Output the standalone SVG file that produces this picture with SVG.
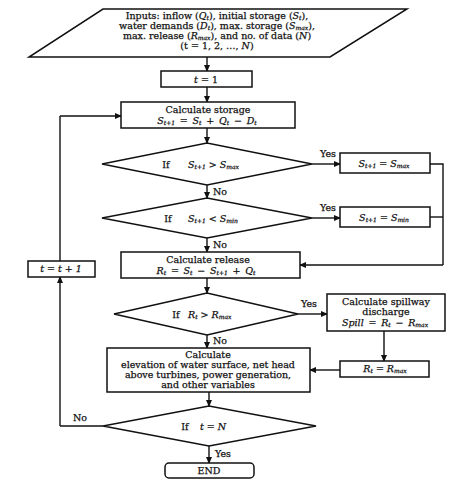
<svg xmlns="http://www.w3.org/2000/svg" width="474" height="488" viewBox="0 0 474 488">
<defs>
<marker id="ah" markerWidth="7" markerHeight="6" refX="6" refY="3" orient="auto" markerUnits="userSpaceOnUse">
<path d="M0,0 L7,3 L0,6 Z" fill="#111"/>
</marker>
<style>
.s{fill:#fff;stroke:#111;stroke-width:1.5}
.c{fill:none;stroke:#111;stroke-width:1.4}
.a{fill:none;stroke:#111;stroke-width:1.4;marker-end:url(#ah)}
.t{font-family:"DejaVu Serif",serif;font-size:9.5px;fill:#111;stroke:#111;stroke-width:0.25;text-anchor:middle}
.l{font-family:"DejaVu Serif",serif;font-size:9.5px;fill:#111;stroke:#111;stroke-width:0.25}
.m{font-style:italic}
.b{font-size:6px}
</style>
</defs>
<rect width="474" height="488" fill="#fff"/>
<g id="connectors">
<path class="a" d="M207,57 V71"/>
<path class="a" d="M207,87 V102"/>
<path class="a" d="M207,128 V143"/>
<path class="a" d="M312,164 H340"/>
<path class="c" d="M430,164 H443 V265"/>
<path class="a" d="M443,265 H300"/>
<path class="a" d="M207,185 V198"/>
<path class="a" d="M312,218 H340"/>
<path class="c" d="M430,217 H443"/>
<path class="a" d="M207,238 V252"/>
<path class="a" d="M207,278 V293"/>
<path class="a" d="M298,314 H327"/>
<path class="a" d="M384,331 V361"/>
<path class="a" d="M340,370 H310"/>
<path class="a" d="M207,335 V348"/>
<path class="a" d="M209,392 V406"/>
<path class="c" d="M103,426 H60"/>
<path class="a" d="M60,426 V277"/>
<path class="c" d="M60,261 V116"/>
<path class="a" d="M60,116 H121"/>
<path class="a" d="M209,446 V463"/>
<text class="l" x="320" y="157">Yes</text>
<text class="l" x="213" y="195">No</text>
<text class="l" x="320" y="211">Yes</text>
<text class="l" x="213" y="248">No</text>
<text class="l" x="301" y="307">Yes</text>
<text class="l" x="213" y="344">No</text>
<text class="l" x="73" y="421">No</text>
<text class="l" x="215" y="457">Yes</text>
</g>
<g id="inputs">
<polygon class="s" points="103,9 407,9 330,57 29,57"/>
<text class="t" x="217" y="19">Inputs: inflow (<tspan class="m">Q</tspan><tspan class="m b" dy="1.2">t</tspan><tspan dy="-1.2">), initial storage (</tspan><tspan class="m">S</tspan><tspan class="m b" dy="1.2">t</tspan><tspan dy="-1.2">),</tspan></text>
<text class="t" x="217" y="29">water demands (<tspan class="m">D</tspan><tspan class="m b" dy="1.2">t</tspan><tspan dy="-1.2">), max. storage (</tspan><tspan class="m">S</tspan><tspan class="m b" dy="1.2">max</tspan><tspan dy="-1.2">),</tspan></text>
<text class="t" x="217" y="39">max. release (<tspan class="m">R</tspan><tspan class="m b" dy="1.2">max</tspan><tspan dy="-1.2">), and no. of data (</tspan><tspan class="m">N</tspan>)</text>
<text class="t" x="217" y="49">(t = 1, 2, …, <tspan class="m">N</tspan>)</text>
</g>
<g id="init">
<rect class="s" x="161" y="71" width="91" height="16"/>
<text class="t" x="206" y="83"><tspan class="m">t</tspan> = 1</text>
</g>
<g id="storage">
<rect class="s" x="121" y="102" width="174" height="26"/>
<text class="t" x="208" y="113">Calculate storage</text>
<text class="t m" x="207" y="124">S<tspan class="b" dy="1.2">t+1</tspan><tspan dy="-1.2">&#8194;=&#8194;S</tspan><tspan class="b" dy="1.2">t</tspan><tspan dy="-1.2">&#8194;+&#8194;Q</tspan><tspan class="b" dy="1.2">t</tspan><tspan dy="-1.2">&#8194;−&#8194;D</tspan><tspan class="b" dy="1.2">t</tspan></text>
</g>
<g id="dec1">
<polygon class="s" points="102,164 207,143 312,164 207,185"/>
<text class="t" x="166" y="168">If</text>
<text class="l m" x="188" y="168">S<tspan class="b" dy="1.2">t+1</tspan><tspan dy="-1.2"> &gt; S</tspan><tspan class="b" dy="1.2">max</tspan></text>
</g>
<g id="smax">
<rect class="s" x="340" y="153" width="90" height="20"/>
<text class="t m" x="384" y="167">S<tspan class="b" dy="1.2">t+1</tspan><tspan dy="-1.2"> = S</tspan><tspan class="b" dy="1.2">max</tspan></text>
</g>
<g id="dec2">
<polygon class="s" points="102,218 207,198 312,218 207,238"/>
<text class="t" x="168" y="222">If</text>
<text class="l m" x="188" y="222">S<tspan class="b" dy="1.2">t+1</tspan><tspan dy="-1.2"> &lt; S</tspan><tspan class="b" dy="1.2">min</tspan></text>
</g>
<g id="smin">
<rect class="s" x="340" y="207" width="90" height="20"/>
<text class="t m" x="384" y="221">S<tspan class="b" dy="1.2">t+1</tspan><tspan dy="-1.2"> = S</tspan><tspan class="b" dy="1.2">min</tspan></text>
</g>
<g id="release">
<rect class="s" x="121" y="252" width="179" height="26"/>
<text class="t" x="208" y="263">Calculate release</text>
<text class="t m" x="206" y="274">R<tspan class="b" dy="1.2">t</tspan><tspan dy="-1.2">&#8194;=&#8194;S</tspan><tspan class="b" dy="1.2">t</tspan><tspan dy="-1.2">&#8194;−&#8194;S</tspan><tspan class="b" dy="1.2">t+1</tspan><tspan dy="-1.2">&#8194;+&#8194;Q</tspan><tspan class="b" dy="1.2">t</tspan></text>
</g>
<g id="dec3">
<polygon class="s" points="114,314 207,293 298,314 207,335"/>
<text class="t" x="176" y="318">If</text>
<text class="l m" x="188" y="318">R<tspan class="b" dy="1.2">t</tspan><tspan dy="-1.2"> &gt; R</tspan><tspan class="b" dy="1.2">max</tspan></text>
</g>
<g id="spill">
<rect class="s" x="327" y="294" width="118" height="37"/>
<text class="t" x="386" y="305">Calculate spillway</text>
<text class="t" x="386" y="315">discharge</text>
<text class="t m" x="385" y="326">Spill&#8194;=&#8194;R<tspan class="b" dy="1.2">t</tspan><tspan dy="-1.2">&#8194;−&#8194;R</tspan><tspan class="b" dy="1.2">max</tspan></text>
</g>
<g id="rmax">
<rect class="s" x="340" y="361" width="89" height="16"/>
<text class="t m" x="385" y="372">R<tspan class="b" dy="1.2">t</tspan><tspan dy="-1.2"> = R</tspan><tspan class="b" dy="1.2">max</tspan></text>
</g>
<g id="calc">
<rect class="s" x="107" y="348" width="203" height="44"/>
<text class="t" x="208" y="358">Calculate</text>
<text class="t" x="208" y="368">elevation of water surface, net head</text>
<text class="t" x="208" y="378">above turbines, power generation,</text>
<text class="t" x="208" y="388">and other variables</text>
</g>
<g id="dec4">
<polygon class="s" points="103,426 209,406 316,426 209,446"/>
<text class="t" x="185" y="430">If</text>
<text class="l m" x="200" y="430">t = N</text>
</g>
<g id="incr">
<rect class="s" x="28" y="261" width="67" height="16"/>
<text class="t m" x="61" y="272">t = t + 1</text>
</g>
<g id="end">
<rect class="s" x="165" y="463" width="89" height="15" rx="4"/>
<text class="t" x="209" y="474">END</text>
</g>
</svg>
